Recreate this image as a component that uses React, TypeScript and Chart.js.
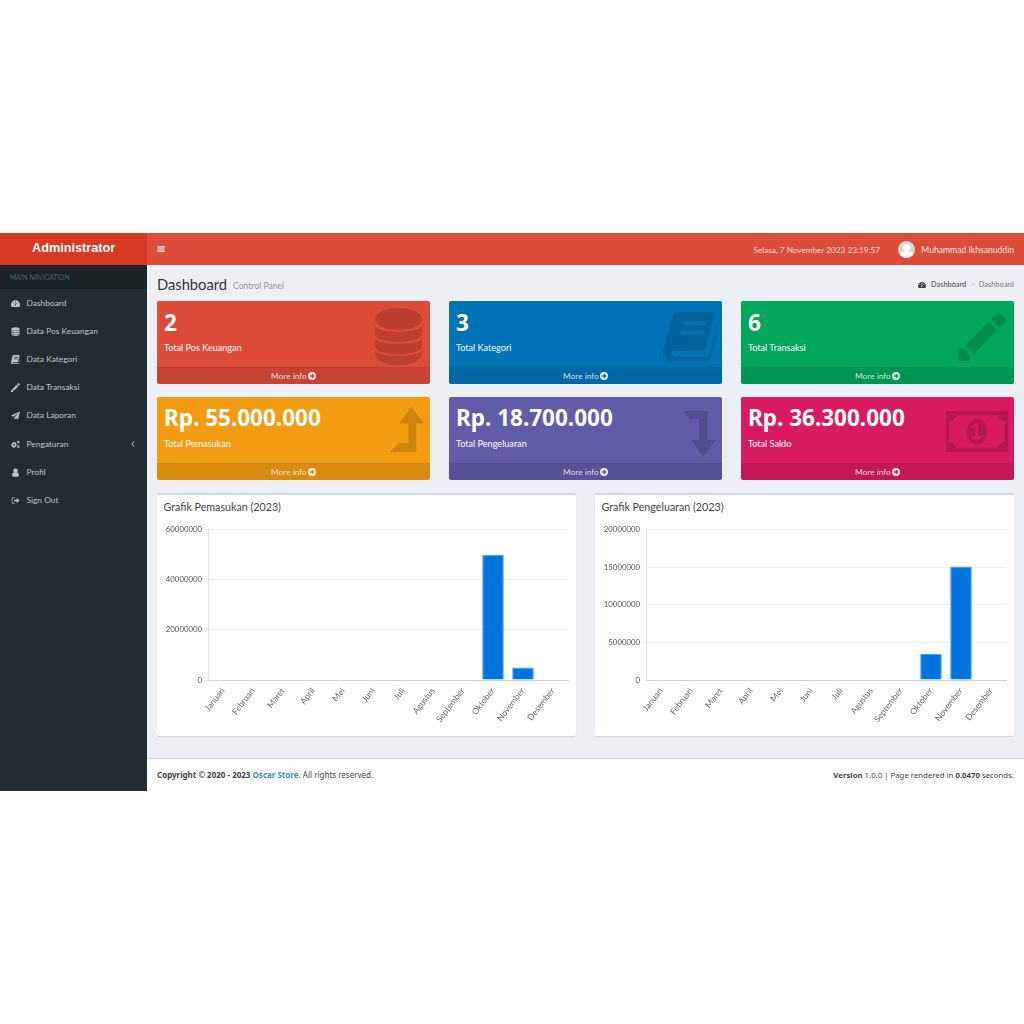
import { useEffect, useRef } from 'react';
import type { CSSProperties, ReactNode } from 'react';
import { Chart, registerables } from 'chart.js';

Chart.register(...registerables);

const months = ['Januari', 'Februari', 'Maret', 'April', 'Mei', 'Juni', 'Juli', 'Agustus', 'September', 'Oktober', 'November', 'Desember'];
const pemasukan = [0, 0, 0, 0, 0, 0, 0, 0, 0, 50000000, 5000000, 0];
const pengeluaran = [0, 0, 0, 0, 0, 0, 0, 0, 0, 3500000, 15100000, 0];

const menuItems = ['Dashboard', 'Data Pos Keuangan', 'Data Kategori', 'Data Transaksi', 'Data Laporan', 'Pengaturan', 'Profil', 'Sign Out'];
const menuIcons = ['gauge', 'database', 'book', 'pencil', 'plane', 'cogs', 'user', 'signout'];

const FONT = '"Lato", "Noto Sans", sans-serif';
const BOLD = '"Noto Sans", sans-serif';

// simple stand-ins for the font-awesome glyphs
function Glyph({ name }: { name: string }) {
  switch (name) {
    case 'database':
      return (
        <g>
          <ellipse cx="12" cy="5" rx="11" ry="4.6" />
          <path d="M1 8c2 3 20 3 22 0v3.500c-1 4-21 4-22 0z" />
          <path d="M1 13c2 3 20 3 22 0v3.500c-1 4-21 4-22 0z" />
          <path d="M1 18c2 3 20 3 22 0v1.500c-1 6-21 6-22 0z" />
        </g>
      );
    case 'book':
      return (
        <path fillRule="evenodd" d="M7 0h14q2 0 1.600 2L19 17q-.5 2-2.500 2H5q-2 0-1.400 1.400T5 22h14q1.300 0 1.700-1L24 6.500V9l-2.500 12.500Q21 24 19 24H4Q0 24 0 20q0-1 .3-2L4 3q.6-3 3-3zM9 4.500l-.6 2h10l.6-2zM8 9l-.6 2h10l.6-2z" />
      );
    case 'pencil':
      return (
        <path fillRule="evenodd" d="M19 .8q1-1 2 0l2.200 2.200q1 1 0 2L20.500 7.700 16.300 3.500zM15 4.800 19.200 9 7.500 20.700 3.300 16.500zM2.500 18 6 21.500 6 24H0v-6z" />
      );
    case 'up':
      return <path d="M15 0L24 12.800H18.500V35H0L6 28H13V12.800H6.500z" />;
    case 'down':
      return <path d="M0 0H17.900V22H24L14.700 35 6 22H11.800V6H5z" />;
    case 'money':
      return (
        <path fillRule="evenodd" d="M0 0h36v24H0zM6 2.500Q5 5.500 2 6v12q3 .5 4 3.500h24q1-3 4-3.500V6q-3-.5-4-3.500zM18 4.500c3.500 0 6 3.300 6 7.500s-2.500 7.500-6 7.500-6-3.300-6-7.500 2.500-7.500 6-7.500zM18.800 7h-1.500l-2.300 2 1 1.200 1-.8V15h-1.700v1.500h5V15h-1.500z" />
      );
    case 'gauge':
      return (
        <path fillRule="evenodd" d="M12 3C5.500 3 0 8.500 0 15q0 3.300 1.700 6h20.600Q24 18.300 24 15C24 8.500 18.500 3 12 3zM11 6h2v3h-2zM5.500 9l2 2-1.300 1.300-2-2zM18.500 9l1.300 1.300-2 2-1.300-1.300zM10.500 15l3-5 1 .5-2 5.500a1.500 1.500 0 1 1-2-1z" />
      );
    case 'plane':
      return <path d="M24 1L19 22l-6-3-4 4v-6L21 5 6 15l-6-3z" />;
    case 'cogs':
      return (
        <path fillRule="evenodd" d="M9 5l1.200 2 2.300-.5 1.500 1.500-.5 2.300 2 1.200v2l-2 1.200.5 2.300-1.500 1.500-2.300-.5L9 21H7l-1.200-2-2.300.5L2 18l.5-2.300-2-1.200v-2l2-1.200L2 9l1.500-1.500 2.300.5L7 5zM8 10.500a2.500 2.500 0 1 0 0 5 2.500 2.500 0 0 0 0-5zM19.500 2a3.500 3.500 0 1 1 0 7 3.500 3.500 0 0 1 0-7zm0 2.300a1.200 1.200 0 1 0 0 2.400 1.200 1.200 0 0 0 0-2.400zM19.500 14a3.500 3.500 0 1 1 0 7 3.500 3.500 0 0 1 0-7zm0 2.300a1.200 1.200 0 1 0 0 2.400 1.200 1.200 0 0 0 0-2.400z" />
      );
    case 'user':
      return <path d="M12 1a6 6 0 0 1 6 6 6 6 0 0 1-12 0 6 6 0 0 1 6-6zM6 12q6 3 12 0 3 1 3 8 0 3-3 3H6q-3 0-3-3 0-7 3-8z" />;
    case 'signout':
      return <path d="M10 4H4q-2 0-2 2v12q0 2 2 2h6v-2H4V6h6zM15 5v5H8v4h7v5l8-7z" />;
    case 'bars':
      return <path d="M1 4h22v3.500H1zM1 10.300h22v3.500H1zM1 16.500h22V20H1z" />;
    case 'arrow':
      return <path fillRule="evenodd" d="M12 0a12 12 0 1 1 0 24 12 12 0 0 1 0-24zM12.500 4.500l-2.200 2.200 3.300 3.300H5v4h8.600l-3.300 3.300 2.200 2.200 7.500-7.500z" />;
    case 'angle':
      return <path d="M15 4l1.500 1.500L10 12l6.500 6.500L15 20l-8-8z" />;
    default:
      return null;
  }
}

function Icon({ name, box, color, viewBox = '0 0 24 24' }: { name: string; box: number[]; color: string; viewBox?: string }) {
  return (
    <svg
      viewBox={viewBox}
      preserveAspectRatio="none"
      style={{ position: 'absolute', left: box[0], top: box[1], width: box[2], height: box[3], fill: color }}
    >
      <Glyph name={name} />
    </svg>
  );
}

function Txt({ x, right, y, size, color, bold, family, children }: {
  x?: number; right?: number; y: number; size: number; color: string; bold?: boolean; family?: string; children: ReactNode;
}) {
  // y is the vertical centre of the line
  const style: CSSProperties = {
    position: 'absolute',
    top: y - 10,
    height: 20,
    lineHeight: '20px',
    fontSize: size,
    color,
    whiteSpace: 'nowrap',
    fontFamily: family || FONT,
    fontWeight: bold ? 700 : 400,
  };
  if (x !== undefined) style.left = x;
  if (right !== undefined) style.right = 1024 - right;
  return <div style={style}>{children}</div>;
}

function Rect({ box, color, radius }: { box: number[]; color: string; radius?: number }) {
  return (
    <div style={{ position: 'absolute', left: box[0], top: box[1], width: box[2], height: box[3], background: color, borderRadius: radius }} />
  );
}

function StatCard({ x, y, color, value, label, icon, iconBox, viewBox, valueY = 21.5 }: {
  x: number; y: number; color: string; value: string; label: string; icon: string; iconBox: number[]; viewBox?: string; valueY?: number;
}) {
  return (
    <>
      <Rect box={[x, y, 273, 83]} color={color} radius={2} />
      <Icon name={icon} box={iconBox} color="rgba(0,0,0,0.15)" viewBox={viewBox} />
      <div style={{ position: 'absolute', left: x, top: y + 66, width: 273, height: 17, background: 'rgba(0,0,0,0.1)', borderRadius: '0 0 2px 2px' }} />
      <Txt x={x + 7} y={y + valueY} size={22.5} color="#fff" bold family={BOLD}>{value}</Txt>
      <Txt x={x + 7} y={y + 46.5} size={9.1} color="#fff">{label}</Txt>
      <Txt x={x + 114} y={y + 75} size={8.3} color="rgba(255,255,255,0.8)">More info</Txt>
      <Icon name="arrow" box={[x + 151, y + 71, 8, 8]} color="rgba(255,255,255,0.9)" />
    </>
  );
}

function BarChart({ left, values, max, step }: { left: number; values: number[]; max: number; step: number }) {
  const canvasRef = useRef<HTMLCanvasElement>(null);

  useEffect(() => {
    if (!canvasRef.current) return;
    const chart = new Chart(canvasRef.current, {
      type: 'bar',
      data: {
        labels: months,
        datasets: [{
          data: values,
          backgroundColor: '#0073dc',
          borderColor: '#3f9be8',
          borderWidth: 1,
        }],
      },
      options: {
        animation: false,
        responsive: false,
        devicePixelRatio: 1,
        layout: { padding: { right: 2 } },
        plugins: { legend: { display: false }, tooltip: { enabled: false } },
        scales: {
          x: {
            grid: { display: false },
            border: { color: '#cfcfcf' },
            ticks: { color: '#666', font: { family: FONT, size: 8.5 }, minRotation: 52, maxRotation: 52, autoSkip: false, padding: -2 },
            afterFit: (scale) => { scale.height = 46; },
          },
          y: {
            min: 0,
            max,
            grid: { color: '#f0f0f0', tickLength: 3 },
            border: { color: '#e2e2e2' },
            ticks: {
              stepSize: step,
              color: '#555',
              font: { family: FONT, size: 7.8 },
              padding: 3,
              callback: (v) => String(v),
            },
            afterFit: (scale) => { scale.width = 45; },
          },
        },
      },
    });
    return () => chart.destroy();
  }, [values, max, step]);

  return (
    <canvas
      ref={canvasRef}
      width={407}
      height={204}
      style={{ position: 'absolute', left, top: 522, width: 407, height: 204 }}
    />
  );
}

export default function App() {
  return (
    <div style={{ position: 'absolute', left: 0, top: 0, width: 1024, height: 1024, background: '#fff', overflow: 'hidden', fontFamily: FONT }}>
      {/* header */}
      <Rect box={[0, 233, 147, 32]} color="#d73925" />
      <Rect box={[147, 233, 877, 32]} color="#dd4b39" />
      <Txt x={32} y={248} size={12.7} color="#fff" bold family='"Liberation Sans", sans-serif'>Administrator</Txt>
      <Icon name="bars" box={[157, 245, 8, 8]} color="#fff" />
      <Txt right={880} y={249.5} size={8.2} color="rgba(255,255,255,0.85)">Selasa, 7 November 2023 23:19:57</Txt>
      <div style={{ position: 'absolute', left: 898, top: 241, width: 17, height: 17, borderRadius: '50%', background: '#d8d8d8', overflow: 'hidden' }}>
        <div style={{ position: 'absolute', left: 5, top: 3, width: 7, height: 7, borderRadius: '50%', background: '#fff' }} />
        <div style={{ position: 'absolute', left: 2, top: 10, width: 13, height: 8, borderRadius: '50%', background: '#fff' }} />
      </div>
      <Txt right={1014} y={249.5} size={8.6} color="rgba(255,255,255,0.9)">Muhammad Ikhsanuddin</Txt>

      {/* sidebar */}
      <Rect box={[0, 265, 147, 526]} color="#222d32" />
      <Rect box={[0, 265, 147, 24]} color="#1a2226" />
      <Txt x={10} y={277} size={6.6} color="#4b646f">MAIN NAVIGATION</Txt>
      {menuItems.map((item, i) => (
        <div key={item}>
          <Icon name={menuIcons[i]} box={[11, 299 + i * 28.1, 9, 9]} color="#b8c7ce" />
          <Txt x={26.5} y={303 + i * 28.1} size={8.4} color="#b8c7ce">{item}</Txt>
        </div>
      ))}
      <Icon name="angle" box={[129, 440, 8, 8]} color="#b8c7ce" />

      {/* content */}
      <Rect box={[147, 265, 877, 493]} color="#ecf0f5" />
      <Txt x={157} y={283.5} size={14.7} color="#333">Dashboard</Txt>
      <Txt x={233} y={285.5} size={8.6} color="#999">Control Panel</Txt>
      <Icon name="gauge" box={[918, 281, 8, 8]} color="#444" />
      <Txt x={931} y={285} size={7.4} color="#444">Dashboard</Txt>
      <Txt x={971} y={285} size={7.4} color="#ccc">&gt;</Txt>
      <Txt right={1014} y={285} size={7.4} color="#777">Dashboard</Txt>

      <StatCard x={157} y={301} color="#dd4b39" value="2" label="Total Pos Keuangan" icon="database" iconBox={[373, 307, 51, 58]} />
      <StatCard x={449} y={301} color="#0073b7" value="3" label="Total Kategori" icon="book" iconBox={[663, 312, 54, 49]} />
      <StatCard x={741} y={301} color="#00a65a" value="6" label="Total Transaksi" icon="pencil" iconBox={[958, 312, 49, 49]} />
      <StatCard x={157} y={397} color="#f39c12" value="Rp. 55.000.000" label="Total Pemasukan" icon="up" iconBox={[390, 407, 34, 45]} viewBox="0 0 24 35" valueY={20.5} />
      <StatCard x={449} y={397} color="#605ca8" value="Rp. 18.700.000" label="Total Pengeluaran" icon="down" iconBox={[683, 411, 33, 46]} viewBox="0 0 24 35" valueY={20.5} />
      <StatCard x={741} y={397} color="#d81b60" value="Rp. 36.300.000" label="Total Saldo" icon="money" iconBox={[946, 411, 62, 41]} viewBox="0 0 36 24" valueY={20.5} />

      {/* chart boxes */}
      <div style={{ position: 'absolute', left: 157, top: 493, width: 419, height: 243, boxSizing: 'border-box', background: '#fff', borderTop: '2px solid #d2d6de', borderRadius: 2, boxShadow: '0 1px 1px rgba(0,0,0,0.1)' }} />
      <div style={{ position: 'absolute', left: 595, top: 493, width: 419, height: 243, boxSizing: 'border-box', background: '#fff', borderTop: '2px solid #d2d6de', borderRadius: 2, boxShadow: '0 1px 1px rgba(0,0,0,0.1)' }} />
      <Txt x={163.5} y={506.5} size={10.7} color="#444">Grafik Pemasukan (2023)</Txt>
      <Txt x={601.5} y={506.5} size={10.7} color="#444">Grafik Pengeluaran (2023)</Txt>
      <BarChart left={163} values={pemasukan} max={60000000} step={20000000} />
      <BarChart left={601} values={pengeluaran} max={20000000} step={5000000} />

      {/* footer */}
      <Rect box={[147, 758, 877, 33]} color="#fff" />
      <Rect box={[147, 758, 877, 1]} color="#d2d6de" />
      <div style={{ position: 'absolute', left: 157, top: 765, height: 20, lineHeight: '20px', fontSize: 8, color: '#444', whiteSpace: 'nowrap', fontFamily: BOLD }}>
        <b>Copyright © 2020 - 2023 <span style={{ color: '#3c8dbc' }}>Oscar Store.</span></b> All rights reserved.
      </div>
      <div style={{ position: 'absolute', right: 10, top: 765, height: 20, lineHeight: '20px', fontSize: 7.8, color: '#444', whiteSpace: 'nowrap', fontFamily: BOLD }}>
        <b>Version</b> 1.0.0 | Page rendered in <b>0.0470</b> seconds.
      </div>
    </div>
  );
}
